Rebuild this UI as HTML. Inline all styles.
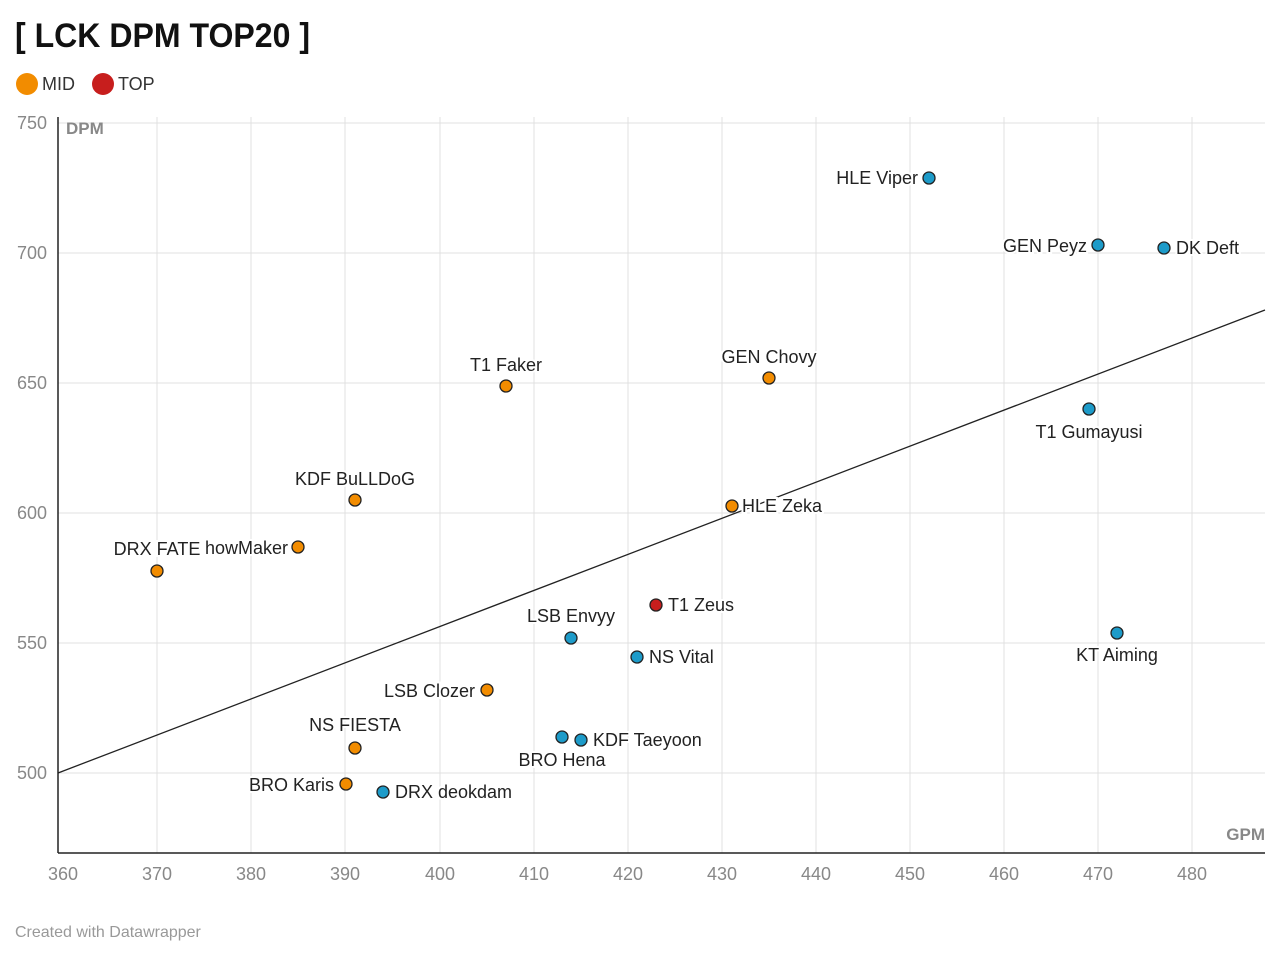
<!DOCTYPE html>
<html><head><meta charset="utf-8"><style>
body{margin:0;background:#fff;width:1280px;height:968px;overflow:hidden;font-family:"Liberation Sans",sans-serif;}
</style></head><body>
<svg width="1280" height="968" xmlns="http://www.w3.org/2000/svg" font-family="Liberation Sans, sans-serif">
<text x="15" y="47" font-size="34" font-weight="bold" fill="#111" textLength="295" lengthAdjust="spacingAndGlyphs">[ LCK DPM TOP20 ]</text>
<circle cx="27" cy="84" r="11" fill="#f28c00"/><text x="42" y="90" font-size="18" fill="#333">MID</text>
<circle cx="103" cy="84" r="11" fill="#c71e1d"/><text x="118" y="90" font-size="18" fill="#333">TOP</text>
<g stroke="#e0e0e0" stroke-width="1">
<line x1="58" y1="123" x2="1265" y2="123"/><line x1="58" y1="253" x2="1265" y2="253"/><line x1="58" y1="383" x2="1265" y2="383"/><line x1="58" y1="513" x2="1265" y2="513"/><line x1="58" y1="643" x2="1265" y2="643"/><line x1="58" y1="773" x2="1265" y2="773"/>
<line x1="157" y1="117" x2="157" y2="853"/><line x1="251" y1="117" x2="251" y2="853"/><line x1="345" y1="117" x2="345" y2="853"/><line x1="440" y1="117" x2="440" y2="853"/><line x1="534" y1="117" x2="534" y2="853"/><line x1="628" y1="117" x2="628" y2="853"/><line x1="722" y1="117" x2="722" y2="853"/><line x1="816" y1="117" x2="816" y2="853"/><line x1="910" y1="117" x2="910" y2="853"/><line x1="1004" y1="117" x2="1004" y2="853"/><line x1="1098" y1="117" x2="1098" y2="853"/><line x1="1192" y1="117" x2="1192" y2="853"/>
</g>
<line x1="58" y1="117" x2="58" y2="853" stroke="#222" stroke-width="1.5"/>
<line x1="58" y1="853" x2="1265" y2="853" stroke="#222" stroke-width="1.5"/>
<g font-size="18" fill="#888">
<text x="47" y="129" text-anchor="end">750</text><text x="47" y="259" text-anchor="end">700</text><text x="47" y="389" text-anchor="end">650</text><text x="47" y="519" text-anchor="end">600</text><text x="47" y="649" text-anchor="end">550</text><text x="47" y="779" text-anchor="end">500</text>
</g>
<g font-size="18" fill="#888" text-anchor="middle">
<text x="63" y="880">360</text><text x="157" y="880">370</text><text x="251" y="880">380</text><text x="345" y="880">390</text><text x="440" y="880">400</text><text x="534" y="880">410</text><text x="628" y="880">420</text><text x="722" y="880">430</text><text x="816" y="880">440</text><text x="910" y="880">450</text><text x="1004" y="880">460</text><text x="1098" y="880">470</text><text x="1192" y="880">480</text>
</g>
<text x="66" y="134" font-size="17" font-weight="bold" fill="#888">DPM</text>
<text x="1265" y="840" font-size="17" font-weight="bold" fill="#888" text-anchor="end">GPM</text>
<line x1="58" y1="773" x2="1265" y2="310" stroke="#222" stroke-width="1.3"/>
<g font-size="18" fill="#222" stroke="#fff" stroke-width="4" paint-order="stroke">
<text x="918" y="184" text-anchor="end">HLE Viper</text>
<text x="1087" y="252" text-anchor="end">GEN Peyz</text>
<text x="1176" y="254">DK Deft</text>
<text x="506" y="371" text-anchor="middle">T1 Faker</text>
<text x="769" y="363" text-anchor="middle">GEN Chovy</text>
<text x="1089" y="438" text-anchor="middle">T1 Gumayusi</text>
<text x="355" y="485" text-anchor="middle">KDF BuLLDoG</text>
<text x="742" y="512">HLE Zeka</text>
<text x="157" y="555" text-anchor="middle">DRX FATE</text>
<text x="288" y="554" text-anchor="end">howMaker</text>
<text x="668" y="611">T1 Zeus</text>
<text x="571" y="622" text-anchor="middle">LSB Envyy</text>
<text x="649" y="663">NS Vital</text>
<text x="1117" y="661" text-anchor="middle">KT Aiming</text>
<text x="475" y="697" text-anchor="end">LSB Clozer</text>
<text x="355" y="731" text-anchor="middle">NS FIESTA</text>
<text x="562" y="766" text-anchor="middle">BRO Hena</text>
<text x="593" y="746">KDF Taeyoon</text>
<text x="334" y="791" text-anchor="end">BRO Karis</text>
<text x="395" y="798">DRX deokdam</text>
</g>
<g stroke="#222" stroke-width="1.3">
<circle cx="929" cy="178" r="6" fill="#1d9bc9"/>
<circle cx="1098" cy="245" r="6" fill="#1d9bc9"/>
<circle cx="1164" cy="248" r="6" fill="#1d9bc9"/>
<circle cx="506" cy="386" r="6" fill="#f28c00"/>
<circle cx="769" cy="378" r="6" fill="#f28c00"/>
<circle cx="1089" cy="409" r="6" fill="#1d9bc9"/>
<circle cx="355" cy="500" r="6" fill="#f28c00"/>
<circle cx="732" cy="506" r="6" fill="#f28c00"/>
<circle cx="157" cy="571" r="6" fill="#f28c00"/>
<circle cx="298" cy="547" r="6" fill="#f28c00"/>
<circle cx="656" cy="605" r="6" fill="#c71e1d"/>
<circle cx="571" cy="638" r="6" fill="#1d9bc9"/>
<circle cx="637" cy="657" r="6" fill="#1d9bc9"/>
<circle cx="1117" cy="633" r="6" fill="#1d9bc9"/>
<circle cx="487" cy="690" r="6" fill="#f28c00"/>
<circle cx="355" cy="748" r="6" fill="#f28c00"/>
<circle cx="562" cy="737" r="6" fill="#1d9bc9"/>
<circle cx="581" cy="740" r="6" fill="#1d9bc9"/>
<circle cx="346" cy="784" r="6" fill="#f28c00"/>
<circle cx="383" cy="792" r="6" fill="#1d9bc9"/>
</g>
<text x="15" y="937" font-size="16" fill="#999">Created with Datawrapper</text>
</svg>
</body></html>
